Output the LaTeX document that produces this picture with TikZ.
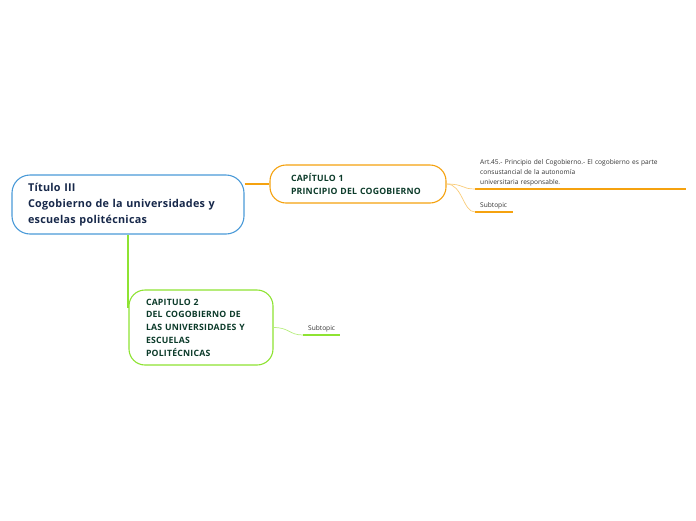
\documentclass[tikz,border=0pt]{standalone}
\usepackage{fontspec}
\setmainfont{Open Sans}
\newfontfamily\spacedfont[LetterSpace=2.5]{Open Sans}
\definecolor{rootblue}{HTML}{4A9AD8}
\definecolor{rootink}{HTML}{17284A}
\definecolor{orangeb}{HTML}{F5A20F}
\definecolor{orangel}{HTML}{F9CC7A}
\definecolor{greenb}{HTML}{8EE332}
\definecolor{greenl}{HTML}{B8EE80}
\definecolor{chapink}{HTML}{0C3B2A}
\definecolor{smallink}{HTML}{333333}
\tikzset{
  rootbox/.style={draw=rootblue, line width=1.1pt, rounded corners=18pt, fill=white,
    text=rootink, font=\spacedfont\fontsize{10.8}{16}\selectfont\bfseries, align=left,
    text width=200pt, inner xsep=16pt, minimum height=59pt},
  chapbox/.style={rounded corners=16pt, fill=white, line width=1.1pt,
    text=chapink, font=\spacedfont\fontsize{8.7}{12.8}\selectfont\bfseries, align=left},
  smalltext/.style={text=smallink, font=\fontsize{6.6}{9.8}\selectfont, align=left,
    inner xsep=5pt, inner ysep=3pt, anchor=south west},
  uline/.style={line width=1.8pt},
  thinlink/.style={line width=0.7pt},
}
\begin{document}
\begin{tikzpicture}[x=1pt,y=-1pt]
\useasboundingbox (0,0) rectangle (696,520);
% nodes
\node[rootbox] (root) at (128,204.5) {Título III\\Cogobierno de la universidades y\\escuelas politécnicas};
\node[chapbox, draw=orangeb, text width=134pt, inner xsep=21pt, minimum height=38pt] (cap1) at (358,184) {CAPÍTULO 1\\PRINCIPIO DEL COGOBIERNO};
\node[chapbox, draw=greenb, text width=110pt, inner xsep=17pt, minimum height=75pt] (cap2) at (201,327.5) {CAPITULO 2\\DEL COGOBIERNO DE\\LAS UNIVERSIDADES Y\\ESCUELAS\\POLITÉCNICAS};
\node[smalltext, text width=201pt] (art) at (475,189) {Art.45.- Principio del Cogobierno.- El cogobierno es parte\\consustancial de la autonomía\\universitaria responsable.};
\node[smalltext, text width=28pt] (sub1) at (475,212) {Subtopic};
\node[smalltext, text width=27pt] (sub2) at (303,335) {Subtopic};
% underlines
\draw[uline, orangeb] (art.south west) -- (art.south east);
\draw[uline, orangeb] (sub1.south west) -- (sub1.south east);
\draw[uline, greenb] (sub2.south west) -- (sub2.south east);
% connectors
\draw[orangeb, line width=1.2pt] (root.east |- cap1.west) -- (cap1.west);
\draw[thinlink, orangel] (cap1.east) .. controls +(18,0) and +(-14,0) .. (art.south west);
\draw[thinlink, orangel] (cap1.east) .. controls +(16,0) and +(-12,0) .. (sub1.south west);
\draw[greenb, line width=2pt] (root.south -| cap2.west) -- ([yshift=20pt]cap2.west);
\draw[thinlink, greenl] (cap2.east) .. controls +(16,0) and +(-14,0) .. (sub2.south west);
\end{tikzpicture}
\end{document}
